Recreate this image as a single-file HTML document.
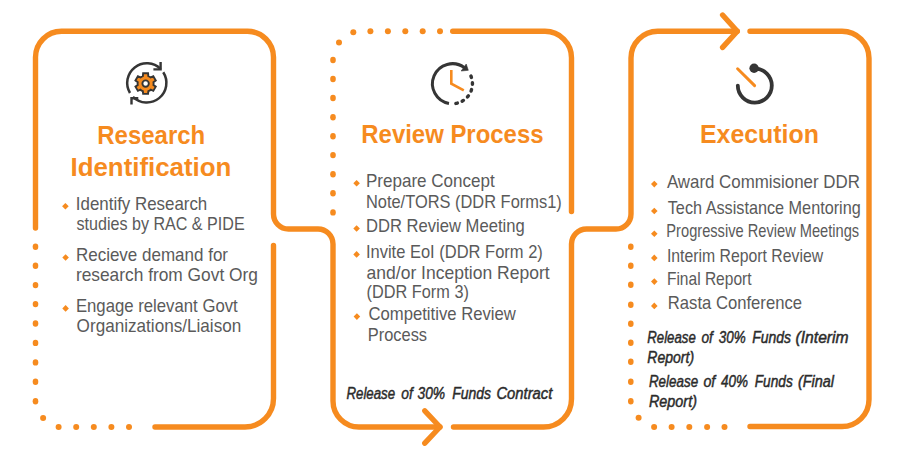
<!DOCTYPE html><html><head><meta charset="utf-8"><style>html,body{margin:0;padding:0;background:#fff;}svg{display:block;}text{font-family:"Liberation Sans",sans-serif;}</style></head><body>
<svg width="900" height="463" viewBox="0 0 900 463">
<g fill="none" stroke="#F68B1F" stroke-width="5.4" stroke-linecap="round" stroke-linejoin="round">
<path d="M35.5 228 V57.5 A26 26 0 0 1 61.5 31.3 H247.5 A26 26 0 0 1 273.5 57.5 V214 A15 15 0 0 0 288.5 229 H318 A15 15 0 0 1 333 244 V401 A26 26 0 0 0 359 427 H440"/>
<path d="M424.8 410.8 L440 427 L424.8 443.2"/>
<path d="M155 427 H245 A28.5 28.5 0 0 0 273.5 398.5 V245.5"/>
<path d="M452.7 31.3 H545 A26.5 26.5 0 0 1 571.5 57.8 V211.5"/>
<path d="M453.5 427 H543.5 A28 28 0 0 0 571.5 399 V244 A15 15 0 0 1 586.5 229 H616 A15 15 0 0 0 631 214 V58 A26.7 26.7 0 0 1 657.7 31.3 H737.3"/>
<path d="M722.6 15.0 L737.3 31.2 L722.6 47.4"/>
<path d="M750 31.3 H842 A27 27 0 0 1 869 58.3 V399.5 A27 27 0 0 1 842 426.5 H750"/>
</g>
<g fill="#F68B1F">
<ellipse cx="35.5" cy="246.7" rx="2.8" ry="3.2"/>
<ellipse cx="35.5" cy="265.7" rx="2.8" ry="3.2"/>
<ellipse cx="35.5" cy="285.1" rx="2.8" ry="3.2"/>
<ellipse cx="35.5" cy="304.1" rx="2.8" ry="3.2"/>
<ellipse cx="35.5" cy="323.5" rx="2.8" ry="3.2"/>
<ellipse cx="35.5" cy="342.9" rx="2.8" ry="3.2"/>
<ellipse cx="35.5" cy="362.4" rx="2.8" ry="3.2"/>
<ellipse cx="35.5" cy="381.8" rx="2.8" ry="3.2"/>
<ellipse cx="35.5" cy="401.3" rx="2.8" ry="3.2"/>
<circle cx="43.1" cy="418.1" r="3"/>
<circle cx="58.6" cy="427" r="3"/>
<circle cx="76.2" cy="427" r="3"/>
<circle cx="93.8" cy="427" r="3"/>
<circle cx="111.4" cy="427" r="3"/>
<circle cx="129" cy="427" r="3"/>
<ellipse cx="333" cy="60.0" rx="2.8" ry="3.2"/>
<ellipse cx="333" cy="79.0" rx="2.8" ry="3.2"/>
<ellipse cx="333" cy="98.0" rx="2.8" ry="3.2"/>
<ellipse cx="333" cy="117.2" rx="2.8" ry="3.2"/>
<ellipse cx="333" cy="136.3" rx="2.8" ry="3.2"/>
<ellipse cx="333" cy="155.1" rx="2.8" ry="3.2"/>
<ellipse cx="333" cy="174.2" rx="2.8" ry="3.2"/>
<ellipse cx="333" cy="193.3" rx="2.8" ry="3.2"/>
<ellipse cx="333" cy="212.4" rx="2.8" ry="3.2"/>
<circle cx="339" cy="42.5" r="3"/>
<circle cx="353.3" cy="32.2" r="3"/>
<circle cx="370.4" cy="31.3" r="3"/>
<circle cx="387.9" cy="31.3" r="3"/>
<circle cx="405.3" cy="31.3" r="3"/>
<circle cx="422.7" cy="31.3" r="3"/>
<circle cx="440" cy="31.3" r="3"/>
<ellipse cx="630.8" cy="246.7" rx="2.8" ry="3.2"/>
<ellipse cx="630.8" cy="265.7" rx="2.8" ry="3.2"/>
<ellipse cx="630.8" cy="284.7" rx="2.8" ry="3.2"/>
<ellipse cx="630.8" cy="304.7" rx="2.8" ry="3.2"/>
<ellipse cx="630.8" cy="323.7" rx="2.8" ry="3.2"/>
<ellipse cx="630.8" cy="342.7" rx="2.8" ry="3.2"/>
<ellipse cx="630.8" cy="361.7" rx="2.8" ry="3.2"/>
<ellipse cx="630.8" cy="381.7" rx="2.8" ry="3.2"/>
<ellipse cx="630.8" cy="401.2" rx="2.8" ry="3.2"/>
<circle cx="638.6" cy="417.8" r="3"/>
<circle cx="654.1" cy="427" r="3"/>
<circle cx="671.6" cy="427" r="3"/>
<circle cx="689.3" cy="427" r="3"/>
<circle cx="707.1" cy="427" r="3"/>
<circle cx="724.5" cy="427" r="3"/>
</g>
<g fill="#F68B1F">
<path d="M65.40 202.90 L68.70 206.20 L65.40 209.50 L62.10 206.20 Z"/>
<path d="M65.60 254.20 L68.90 257.50 L65.60 260.80 L62.30 257.50 Z"/>
<path d="M65.60 305.10 L68.90 308.40 L65.60 311.70 L62.30 308.40 Z"/>
<path d="M356.60 179.90 L359.90 183.20 L356.60 186.50 L353.30 183.20 Z"/>
<path d="M356.60 225.20 L359.90 228.50 L356.60 231.80 L353.30 228.50 Z"/>
<path d="M356.60 251.10 L359.90 254.40 L356.60 257.70 L353.30 254.40 Z"/>
<path d="M356.90 313.30 L360.20 316.60 L356.90 319.90 L353.60 316.60 Z"/>
<path d="M654.30 180.80 L657.60 184.10 L654.30 187.40 L651.00 184.10 Z"/>
<path d="M654.30 207.70 L657.60 211.00 L654.30 214.30 L651.00 211.00 Z"/>
<path d="M654.30 230.40 L657.60 233.70 L654.30 237.00 L651.00 233.70 Z"/>
<path d="M654.30 254.60 L657.60 257.90 L654.30 261.20 L651.00 257.90 Z"/>
<path d="M654.30 278.30 L657.60 281.60 L654.30 284.90 L651.00 281.60 Z"/>
<path d="M654.30 302.60 L657.60 305.90 L654.30 309.20 L651.00 305.90 Z"/>
</g>
<g fill="none" stroke="#353535" stroke-width="2.5" stroke-linecap="butt">
<path d="M130.00 92.99 A19.6 19.6 0 0 1 160.66 69.04"/>
<path d="M163.24 72.23 A19.6 19.6 0 0 1 132.94 96.76"/>
</g>
<g fill="none" stroke="#353535" stroke-width="2.4" stroke-linecap="butt" stroke-linejoin="miter">
<path d="M160.6 62.0 V69.4 H153.4"/>
<path d="M131.5 104.6 V98.2 H138.3"/>
</g>
<path d="M142.86 76.08 L143.13 73.29 L148.07 73.29 L148.34 76.08 A8.0 8.0 0 0 1 150.74 77.47 L153.29 76.30 L155.76 80.59 L153.48 82.21 A8.0 8.0 0 0 1 153.48 84.99 L155.76 86.61 L153.29 90.90 L150.74 89.73 A8.0 8.0 0 0 1 148.34 91.12 L148.07 93.91 L143.13 93.91 L142.86 91.12 A8.0 8.0 0 0 1 140.46 89.73 L137.91 90.90 L135.44 86.61 L137.72 84.99 A8.0 8.0 0 0 1 137.72 82.21 L135.44 80.59 L137.91 76.30 L140.46 77.47 A8.0 8.0 0 0 1 142.86 76.08 Z" fill="#F68B1F" stroke="#353535" stroke-width="1.9" stroke-linejoin="miter"/>
<circle cx="145.6" cy="83.6" r="3.2" fill="#fff" stroke="#353535" stroke-width="1.9"/>
<path d="M448.98 103.40 A20.0 20.0 0 1 1 464.21 67.52" fill="none" stroke="#353535" stroke-width="3.0" stroke-linecap="butt"/>
<path d="M468.30 70.31 L461.17 71.01 L466.22 64.04 Z" fill="#353535" stroke="#353535" stroke-width="0.6" stroke-linejoin="round"/>
<path d="M470.91 76.01 A20.0 20.0 0 0 1 471.45 77.45" fill="none" stroke="#353535" stroke-width="3.4" stroke-linecap="round"/>
<path d="M472.43 82.76 A20.0 20.0 0 0 1 472.44 84.29" fill="none" stroke="#353535" stroke-width="3.4" stroke-linecap="round"/>
<path d="M471.56 89.61 A20.0 20.0 0 0 1 471.05 91.06" fill="none" stroke="#353535" stroke-width="3.4" stroke-linecap="round"/>
<path d="M468.42 95.74 A20.0 20.0 0 0 1 467.45 96.93" fill="none" stroke="#353535" stroke-width="3.4" stroke-linecap="round"/>
<path d="M463.43 100.42 A20.0 20.0 0 0 1 462.12 101.21" fill="none" stroke="#353535" stroke-width="3.4" stroke-linecap="round"/>
<path d="M457.36 103.09 A20.0 20.0 0 0 1 455.85 103.41" fill="none" stroke="#353535" stroke-width="3.4" stroke-linecap="round"/>
<path d="M451.3 70.0 V83.7 L463.8 90.4" fill="none" stroke="#F68B1F" stroke-width="2.6" stroke-linecap="butt" stroke-linejoin="miter"/>
<path d="M737.80 85.60 A17.0 17.0 0 1 0 754.80 68.60" fill="none" stroke="#353535" stroke-width="3.8" stroke-linecap="round"/>
<circle cx="754.10" cy="68.20" r="4.7" fill="#353535"/>
<path d="M737.6 68.8 L754.6 85.6" fill="none" stroke="#F68B1F" stroke-width="3.0" stroke-linecap="round"/>
<text x="97.30" y="143.70" font-size="26.6" font-weight="bold" font-style="normal" fill="#F68B1F" textLength="107.92" lengthAdjust="spacingAndGlyphs">Research</text>
<text x="70.48" y="176.10" font-size="26.6" font-weight="bold" font-style="normal" fill="#F68B1F" textLength="160.92" lengthAdjust="spacingAndGlyphs">Identification</text>
<text x="75.86" y="209.60" font-size="18.2" font-weight="normal" font-style="normal" fill="#5a5a5a" textLength="131.40" lengthAdjust="spacingAndGlyphs">Identify Research</text>
<text x="76.56" y="229.90" font-size="18.2" font-weight="normal" font-style="normal" fill="#5a5a5a" textLength="168.06" lengthAdjust="spacingAndGlyphs">studies by RAC &amp; PIDE</text>
<text x="75.92" y="260.80" font-size="18.2" font-weight="normal" font-style="normal" fill="#5a5a5a" textLength="152.08" lengthAdjust="spacingAndGlyphs">Recieve demand for</text>
<text x="75.92" y="280.80" font-size="18.2" font-weight="normal" font-style="normal" fill="#5a5a5a" textLength="182.02" lengthAdjust="spacingAndGlyphs">research from Govt Org</text>
<text x="75.92" y="311.90" font-size="18.2" font-weight="normal" font-style="normal" fill="#5a5a5a" textLength="161.82" lengthAdjust="spacingAndGlyphs">Engage relevant Govt</text>
<text x="76.62" y="331.70" font-size="18.2" font-weight="normal" font-style="normal" fill="#5a5a5a" textLength="164.64" lengthAdjust="spacingAndGlyphs">Organizations/Liaison</text>
<text x="361.30" y="143.20" font-size="26.6" font-weight="bold" font-style="normal" fill="#F68B1F" textLength="182.22" lengthAdjust="spacingAndGlyphs">Review Process</text>
<text x="365.92" y="186.90" font-size="18.2" font-weight="normal" font-style="normal" fill="#5a5a5a" textLength="128.88" lengthAdjust="spacingAndGlyphs">Prepare Concept</text>
<text x="365.92" y="207.90" font-size="18.2" font-weight="normal" font-style="normal" fill="#5a5a5a" textLength="195.84" lengthAdjust="spacingAndGlyphs">Note/TORS (DDR Forms1)</text>
<text x="365.92" y="231.90" font-size="18.2" font-weight="normal" font-style="normal" fill="#5a5a5a" textLength="158.78" lengthAdjust="spacingAndGlyphs">DDR Review Meeting</text>
<text x="365.92" y="258.40" font-size="18.2" font-weight="normal" font-style="normal" fill="#5a5a5a" textLength="176.90" lengthAdjust="spacingAndGlyphs">Invite EoI (DDR Form 2)</text>
<text x="366.62" y="278.80" font-size="18.2" font-weight="normal" font-style="normal" fill="#5a5a5a" textLength="183.00" lengthAdjust="spacingAndGlyphs">and/or Inception Report</text>
<text x="366.62" y="298.30" font-size="18.2" font-weight="normal" font-style="normal" fill="#5a5a5a" textLength="102.26" lengthAdjust="spacingAndGlyphs">(DDR Form 3)</text>
<text x="368.50" y="319.90" font-size="18.2" font-weight="normal" font-style="normal" fill="#5a5a5a" textLength="147.30" lengthAdjust="spacingAndGlyphs">Competitive Review</text>
<text x="367.80" y="340.70" font-size="18.2" font-weight="normal" font-style="normal" fill="#5a5a5a" textLength="59.26" lengthAdjust="spacingAndGlyphs">Process</text>
<text x="346.38" y="398.80" font-size="17.4" font-weight="normal" font-style="italic" fill="#2b2b2b" stroke="#2b2b2b" stroke-width="0.5" textLength="48.80" lengthAdjust="spacingAndGlyphs">Release</text>
<text x="401.20" y="398.80" font-size="17.4" font-weight="normal" font-style="italic" fill="#2b2b2b" stroke="#2b2b2b" stroke-width="0.5" textLength="11.58" lengthAdjust="spacingAndGlyphs">of</text>
<text x="417.44" y="398.80" font-size="17.4" font-weight="normal" font-style="italic" fill="#2b2b2b" stroke="#2b2b2b" stroke-width="0.5" textLength="27.68" lengthAdjust="spacingAndGlyphs">30%</text>
<text x="452.26" y="398.80" font-size="17.4" font-weight="normal" font-style="italic" fill="#2b2b2b" stroke="#2b2b2b" stroke-width="0.5" textLength="38.80" lengthAdjust="spacingAndGlyphs">Funds</text>
<text x="496.44" y="398.80" font-size="17.4" font-weight="normal" font-style="italic" fill="#2b2b2b" stroke="#2b2b2b" stroke-width="0.5" textLength="55.92" lengthAdjust="spacingAndGlyphs">Contract</text>
<text x="699.98" y="143.30" font-size="26.6" font-weight="bold" font-style="normal" fill="#F68B1F" textLength="118.86" lengthAdjust="spacingAndGlyphs">Execution</text>
<text x="666.88" y="188.40" font-size="18.2" font-weight="normal" font-style="normal" fill="#5a5a5a" textLength="193.00" lengthAdjust="spacingAndGlyphs">Award Commisioner DDR</text>
<text x="667.76" y="214.30" font-size="18.2" font-weight="normal" font-style="normal" fill="#5a5a5a" textLength="193.00" lengthAdjust="spacingAndGlyphs">Tech Assistance Mentoring</text>
<text x="666.36" y="237.00" font-size="18.2" font-weight="normal" font-style="normal" fill="#5a5a5a" textLength="192.82" lengthAdjust="spacingAndGlyphs">Progressive Review Meetings</text>
<text x="666.92" y="261.90" font-size="18.2" font-weight="normal" font-style="normal" fill="#5a5a5a" textLength="156.26" lengthAdjust="spacingAndGlyphs">Interim Report Review</text>
<text x="666.92" y="284.60" font-size="18.2" font-weight="normal" font-style="normal" fill="#5a5a5a" textLength="84.64" lengthAdjust="spacingAndGlyphs">Final Report</text>
<text x="667.80" y="309.20" font-size="18.2" font-weight="normal" font-style="normal" fill="#5a5a5a" textLength="134.20" lengthAdjust="spacingAndGlyphs">Rasta Conference</text>
<text x="647.26" y="342.70" font-size="17.4" font-weight="normal" font-style="italic" fill="#2b2b2b" stroke="#2b2b2b" stroke-width="0.5" textLength="48.54" lengthAdjust="spacingAndGlyphs">Release</text>
<text x="701.38" y="342.70" font-size="17.4" font-weight="normal" font-style="italic" fill="#2b2b2b" stroke="#2b2b2b" stroke-width="0.5" textLength="11.46" lengthAdjust="spacingAndGlyphs">of</text>
<text x="718.76" y="342.70" font-size="17.4" font-weight="normal" font-style="italic" fill="#2b2b2b" stroke="#2b2b2b" stroke-width="0.5" textLength="26.92" lengthAdjust="spacingAndGlyphs">30%</text>
<text x="752.26" y="342.70" font-size="17.4" font-weight="normal" font-style="italic" fill="#2b2b2b" stroke="#2b2b2b" stroke-width="0.5" textLength="38.80" lengthAdjust="spacingAndGlyphs">Funds</text>
<text x="795.56" y="342.70" font-size="17.4" font-weight="normal" font-style="italic" fill="#2b2b2b" stroke="#2b2b2b" stroke-width="0.5" textLength="53.06" lengthAdjust="spacingAndGlyphs">(Interim</text>
<text x="647.26" y="362.70" font-size="17.4" font-weight="normal" font-style="italic" fill="#2b2b2b" stroke="#2b2b2b" stroke-width="0.5" textLength="46.86" lengthAdjust="spacingAndGlyphs">Report)</text>
<text x="648.94" y="387.20" font-size="17.4" font-weight="normal" font-style="italic" fill="#2b2b2b" stroke="#2b2b2b" stroke-width="0.5" textLength="49.18" lengthAdjust="spacingAndGlyphs">Release</text>
<text x="703.44" y="387.20" font-size="17.4" font-weight="normal" font-style="italic" fill="#2b2b2b" stroke="#2b2b2b" stroke-width="0.5" textLength="11.90" lengthAdjust="spacingAndGlyphs">of</text>
<text x="721.08" y="387.20" font-size="17.4" font-weight="normal" font-style="italic" fill="#2b2b2b" stroke="#2b2b2b" stroke-width="0.5" textLength="26.98" lengthAdjust="spacingAndGlyphs">40%</text>
<text x="754.76" y="387.20" font-size="17.4" font-weight="normal" font-style="italic" fill="#2b2b2b" stroke="#2b2b2b" stroke-width="0.5" textLength="37.98" lengthAdjust="spacingAndGlyphs">Funds</text>
<text x="797.94" y="387.20" font-size="17.4" font-weight="normal" font-style="italic" fill="#2b2b2b" stroke="#2b2b2b" stroke-width="0.5" textLength="36.16" lengthAdjust="spacingAndGlyphs">(Final</text>
<text x="648.94" y="407.20" font-size="17.4" font-weight="normal" font-style="italic" fill="#2b2b2b" stroke="#2b2b2b" stroke-width="0.5" textLength="48.00" lengthAdjust="spacingAndGlyphs">Report)</text>
</svg></body></html>
